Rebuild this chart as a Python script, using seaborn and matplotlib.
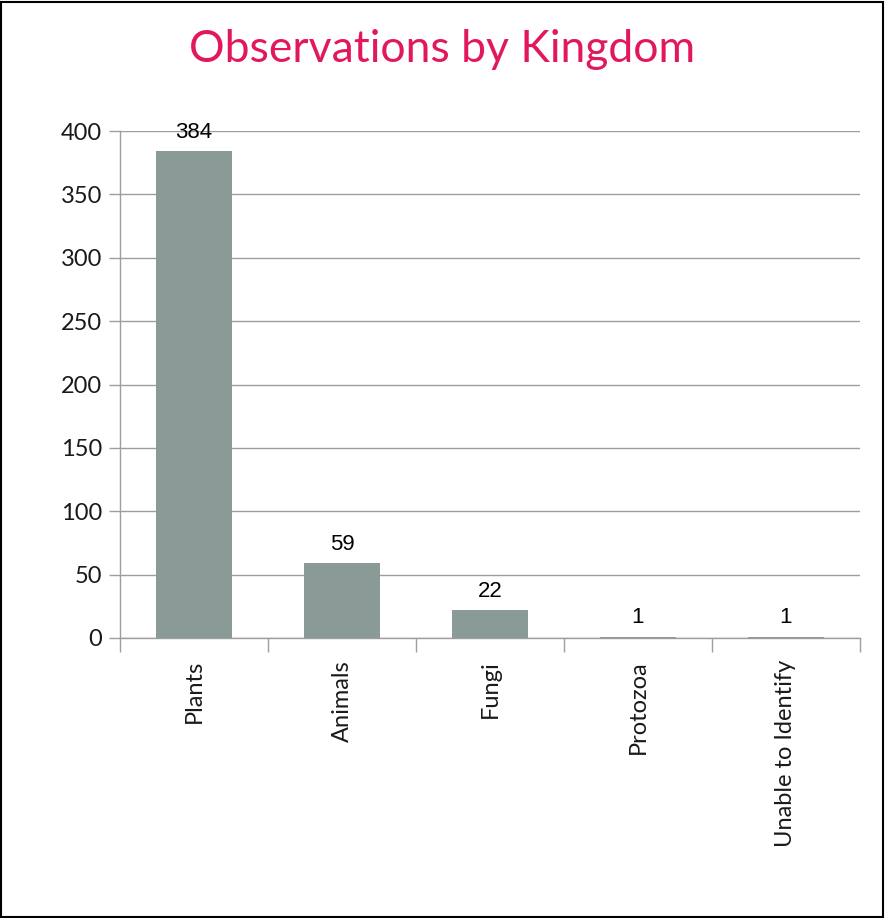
import matplotlib
matplotlib.use("Agg")
import matplotlib.pyplot as plt
import seaborn as sns
import pandas as pd
from matplotlib.ticker import FixedLocator
from matplotlib.patches import Rectangle

categories = ["Plants", "Animals", "Fungi", "Protozoa", "Unable to Identify"]
counts = [384, 59, 22, 1, 1]
yticks = [0, 50, 100, 150, 200, 250, 300, 350, 400]

sns.set_theme(style="white")
plt.rcParams['font.family'] = ['Lato', 'DejaVu Sans']

df = pd.DataFrame({"Kingdom": categories, "Observations": counts})

fig = plt.figure(figsize=(8.85, 9.18), dpi=100)
ax = fig.add_axes([120/885, 1-638/918, 740/885, 507/918])

grid_c = "#9E9E9E"
sns.barplot(data=df, x="Kingdom", y="Observations", color="#8A9A96",
            saturation=1, width=0.51, ax=ax, zorder=3, linewidth=0)

ax.set_ylim(0, 400)
ax.set_xlim(-0.5, len(categories) - 0.5)
ax.set_yticks(yticks)
ax.set_yticklabels([str(v) for v in yticks], fontsize=17, color="#1a1a1a")
ax.yaxis.grid(True, color=grid_c, linewidth=1, zorder=0)
ax.set_axisbelow(True)
ax.tick_params(axis="y", length=8, width=1, color=grid_c, pad=5, left=True)

ax.set_xticks(range(len(categories)))
ax.set_xticklabels(categories, rotation=90, fontsize=17, color="#1a1a1a")
ax.tick_params(axis="x", which="major", length=0, pad=16)
ax.xaxis.set_minor_locator(FixedLocator([i - 0.5 for i in range(len(categories) + 1)]))
ax.tick_params(axis="x", which="minor", length=10, width=1, color=grid_c, bottom=True)

for s in ["top", "right"]:
    ax.spines[s].set_visible(False)
for s in ["left", "bottom"]:
    ax.spines[s].set_color(grid_c)
    ax.spines[s].set_linewidth(1)

ax.set_xlabel("")
ax.set_ylabel("")

for i, v in enumerate(counts):
    ax.annotate(str(v), (i, v), xytext=(0, 6), textcoords="offset points",
                ha="center", va="bottom", fontsize=16, color="black",
                family=["Liberation Sans", "DejaVu Sans"])

fig.text(0.5, 1 - 50/918, "Observations by Kingdom", ha="center", va="center",
         fontsize=32, color="#E2185F")

fig.patches.append(Rectangle((0.001, 0.001), 0.997, 0.997, transform=fig.transFigure,
                             fill=False, edgecolor="black", linewidth=1.5))

fig.savefig("out.png", dpi=100, facecolor="white")
